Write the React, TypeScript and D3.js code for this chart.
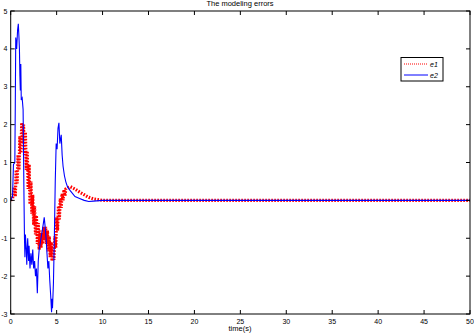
import React from "react";
import * as d3 from "d3";

const xTicks = [0, 5, 10, 15, 20, 25, 30, 35, 40, 45, 50];
const yTicks = [-3, -2, -1, 0, 1, 2, 3, 4, 5];

const e1T = [0, 0.2, 0.4, 0.5, 0.6, 0.7, 0.8, 0.9, 1.0, 1.1, 1.2, 1.3, 1.4, 1.5, 1.6, 1.7, 1.8, 1.9, 2.0, 2.1, 2.2, 2.3, 2.4, 2.5, 2.6, 2.7, 2.8, 2.9, 3.0, 3.1, 3.2, 3.3, 3.4, 3.5, 3.6, 3.7, 3.8, 3.9, 4.0, 4.1, 4.2, 4.3, 4.4, 4.5, 4.6, 4.7, 4.8, 4.9, 5.0, 5.1, 5.2, 5.3, 5.4, 5.5, 5.6, 5.7, 5.8, 5.9, 6.0, 6.2, 6.5, 7.0, 7.5, 8.0, 8.5, 9.0, 9.5, 10, 50];
const e1V = [0, 0.05, 0.35, 0.1, 0.8, 0.45, 1.2, 0.8, 1.7, 1.25, 2.05, 1.5, 2.0, 1.2, 1.8, 0.8, 1.3, 0.3, 0.95, -0.1, 0.5, -0.35, 0.15, -0.65, -0.15, -0.9, -0.4, -1.15, -0.6, -1.3, -0.8, -1.25, -0.85, -1.15, -0.7, -1.05, -0.7, -1.15, -0.8, -1.35, -0.95, -1.5, -1.1, -1.6, -1.25, -1.57, -0.95, -1.25, -0.45, -0.8, -0.15, -0.5, 0.05, -0.2, 0.18, 0.0, 0.28, 0.12, 0.3, 0.33, 0.36, 0.3, 0.22, 0.15, 0.08, 0.04, 0.02, 0, 0];

const e2T = [0, 0.2, 0.3, 0.45, 0.5, 0.55, 0.65, 0.75, 0.83, 0.9, 0.95, 1.0, 1.05, 1.1, 1.15, 1.25, 1.35, 1.4, 1.45, 1.5, 1.55, 1.6, 1.7, 1.75, 1.85, 1.95, 2.0, 2.1, 2.2, 2.3, 2.4, 2.5, 2.6, 2.7, 2.8, 2.9, 3.0, 3.1, 3.3, 3.5, 3.65, 3.75, 3.85, 3.95, 4.05, 4.15, 4.25, 4.35, 4.45, 4.5, 4.55, 4.65, 4.75, 4.85, 4.95, 5.05, 5.15, 5.25, 5.35, 5.5, 5.6, 5.7, 5.85, 6.0, 6.2, 6.5, 7.0, 7.5, 8.0, 8.5, 9.0, 10, 50];
const e2V = [0, 0.1, 0.95, 1.0, 2.5, 4.3, 4.0, 4.5, 4.66, 4.3, 4.0, 3.3, 2.9, 3.6, 2.65, 2.7, 2.4, 1.2, 0.0, -1.0, -1.5, -0.9, -1.3, -1.7, -1.0, -1.6, -1.2, -1.8, -1.4, -1.7, -1.3, -1.8, -1.6, -2.0, -1.8, -2.45, -1.6, -1.3, -1.0, -0.7, -0.45, -0.7, -1.0, -1.4, -1.8, -1.6, -2.1, -2.5, -2.95, -2.6, -2.85, -2.2, -1.0, 0.5, 1.5, 1.35, 1.9, 2.05, 1.5, 1.73, 1.2, 0.9, 0.65, 0.49, 0.35, 0.25, 0.1, 0.05, 0.0, -0.03, -0.02, 0, 0];

const W = 474;
const H = 333;
const left = 10.7;
const right = 470;
const top = 11;
const bottom = 314;

export default function App() {
  const x = d3.scaleLinear().domain([0, 50]).range([left, right]);
  const y = d3.scaleLinear().domain([-3, 5]).range([bottom, top]);
  const mk = (ts: number[], vs: number[]) =>
    d3
      .line<number>()
      .x((_, i) => x(ts[i]))
      .y((v) => y(v))(vs) || "";
  const p1 = mk(e1T, e1V);
  const p2 = mk(e2T, e2V);
  const font = "Liberation Sans, Arial, sans-serif";
  return (
    <svg
      width={W}
      height={H}
      style={{ position: "absolute", left: 0, top: 0, background: "#fff" }}
      fontFamily={font}
    >
      <rect x={0} y={0} width={W} height={H} fill="#fff" />
      <text x={240} y={6} fontSize={7.5} textAnchor="middle" fill="#000">
        The modeling  errors
      </text>
      <defs>
        <clipPath id="pa">
          <rect x={left} y={top} width={right - left} height={bottom - top} />
        </clipPath>
      </defs>
      <g clipPath="url(#pa)">
        <path d={p1} fill="none" stroke="#ff0000" strokeWidth={3.2} strokeDasharray="1.6,1.4" />
        <path d={p2} fill="none" stroke="#0000ff" strokeWidth={1.1} />
      </g>
      <rect x={left} y={top} width={right - left} height={bottom - top} fill="none" stroke="#000" strokeWidth={1} />
      {xTicks.map((t) => (
        <g key={"x" + t}>
          <line x1={x(t)} x2={x(t)} y1={bottom} y2={bottom - 4} stroke="#000" />
          <line x1={x(t)} x2={x(t)} y1={top} y2={top + 4} stroke="#000" />
          <text x={x(t)} y={324} fontSize={7} textAnchor="middle" fill="#000">
            {t}
          </text>
        </g>
      ))}
      {yTicks.map((t) => (
        <g key={"y" + t}>
          <line x1={left} x2={left + 4} y1={y(t)} y2={y(t)} stroke="#000" />
          <line x1={right} x2={right - 4} y1={y(t)} y2={y(t)} stroke="#000" />
          <text x={7.5} y={y(t) + 2.5} fontSize={7} textAnchor="end" fill="#000">
            {t}
          </text>
        </g>
      ))}
      <text x={240} y={331} fontSize={7.5} textAnchor="middle" fill="#000">
        time(s)
      </text>
      <g>
        <rect x={401} y={57.5} width={42} height={23.5} fill="#fff" stroke="#000" strokeWidth={1} />
        <line x1={404} x2={428} y1={64} y2={64} stroke="#ff0000" strokeWidth={1.2} strokeDasharray="1,1" />
        <line x1={404} x2={428} y1={75} y2={75} stroke="#0000ff" strokeWidth={1} />
        <text x={430} y={67} fontSize={7} fontStyle="italic" fill="#000">e1</text>
        <text x={430} y={78} fontSize={7} fontStyle="italic" fill="#000">e2</text>
      </g>
    </svg>
  );
}
